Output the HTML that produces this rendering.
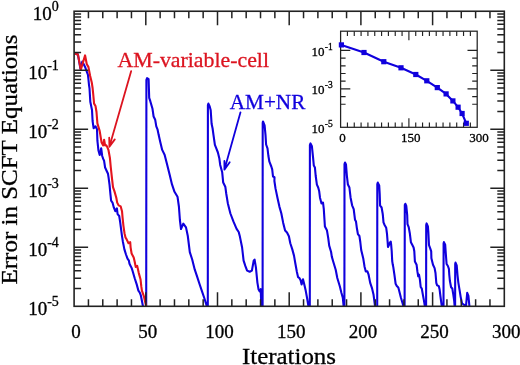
<!DOCTYPE html><html><head><meta charset="utf-8"><style>html,body{margin:0;padding:0;background:#fff;width:520px;height:365px;overflow:hidden}svg{display:block}text{font-family:"Liberation Serif","Times New Roman",serif;fill:#000;stroke:#000;stroke-width:0.3px}</style></head><body>
<svg width="520" height="365" viewBox="0 0 520 365">
<rect width="520" height="365" fill="#fff"/>
<defs><clipPath id="c"><rect x="74.1" y="11.25" width="430.20000000000005" height="295.05"/></clipPath></defs>
<g clip-path="url(#c)" fill="none" stroke-linejoin="round" stroke-linecap="round">
<polyline points="75.6,54.0 77.9,54.4 80.4,68.5 82.3,61.6 83.2,63.2 85.1,66.9 86.2,70.2 87.9,74.6 88.4,79.0 89.0,85.0 89.5,88.3 90.3,101.7 92.0,110.0 92.6,121.0 93.6,128.2 95.5,126.3 97.0,129.2 97.4,140.7 98.4,150.2 99.7,155.0 101.2,148.3 102.2,156.0 103.2,158.9 104.1,160.8 105.1,167.5 106.7,171.0 108.0,173.8 108.6,177.7 109.6,185.3 110.5,194.9 111.1,200.7 112.5,202.6 113.8,207.4 115.3,211.2 116.9,208.3 117.6,214.1 119.2,216.0 120.1,221.7 121.1,229.4 122.0,236.1 122.8,241.2 124.4,249.4 126.0,254.5 127.5,258.7 128.9,260.7 129.5,263.8 130.6,265.9 131.6,267.9 132.6,271.0 134.7,278.2 136.7,284.4 138.4,290.6 139.8,292.6 140.9,295.7 141.9,300.8 142.9,306.0 143.5,312.0 146.2,312.0 146.4,80.0 147.1,78.2 148.6,79.2 149.2,97.9 150.3,101.2 152.5,108.8 153.6,116.5 155.2,119.8 156.3,126.4 157.6,129.7 158.7,135.1 160.2,141.7 162.2,149.9 164.6,154.8 167.1,164.6 169.6,174.5 172.0,184.4 174.5,191.8 177.5,196.7 178.9,206.5 179.9,220.0 181.0,229.0 183.3,223.7 186.0,227.4 187.8,236.0 189.8,252.1 192.2,259.5 194.7,269.4 197.2,276.8 199.6,284.2 202.1,291.6 204.6,299.0 206.5,305.2 207.2,312.0 207.8,312.0 207.9,105.0 208.4,103.6 209.7,106.5 210.7,110.3 211.6,123.7 212.6,128.5 213.5,135.2 214.9,144.8 216.4,148.6 217.9,152.5 219.3,158.2 220.2,164.9 222.2,172.3 223.2,182.6 225.3,186.7 226.3,194.0 227.8,203.2 230.4,213.5 233.5,221.7 236.6,228.9 238.7,232.0 239.9,236.6 242.1,247.5 243.6,260.7 245.4,266.2 247.1,270.6 249.7,271.7 251.9,270.6 253.7,260.7 254.6,259.6 255.9,267.3 257.4,282.6 258.5,289.2 259.6,291.4 260.7,289.2 261.3,306.0 261.6,312.0 262.6,312.0 262.7,123.0 263.0,121.5 264.6,125.3 265.5,134.9 266.1,144.5 267.5,148.3 268.4,156.0 269.4,161.7 271.3,166.5 272.2,169.4 273.0,176.5 274.5,177.3 274.4,181.0 275.5,188.4 277.5,198.0 279.4,206.6 281.3,213.3 283.2,222.9 285.1,230.6 287.0,232.5 288.9,236.3 290.3,243.2 292.3,249.4 294.0,255.6 295.4,263.8 296.9,272.0 298.1,277.2 299.5,278.2 300.6,280.3 301.6,284.4 303.0,279.2 304.3,284.4 305.7,290.6 307.2,298.8 308.4,306.0 308.9,312.0 309.8,312.0 309.9,145.0 310.5,143.4 311.9,146.3 313.0,156.8 313.8,165.4 314.9,167.4 315.7,176.0 316.9,184.6 318.2,187.5 319.2,191.3 320.0,197.7 321.5,203.4 323.0,202.5 323.8,209.2 324.9,226.4 326.9,230.2 328.2,237.9 329.2,245.6 331.1,252.0 331.8,256.6 333.2,261.5 335.7,269.7 337.3,278.0 339.8,286.2 341.4,292.8 342.8,297.7 343.6,305.9 344.0,312.0 344.4,312.0 344.5,164.0 345.0,162.6 346.0,164.5 346.9,176.0 347.9,184.6 349.4,187.5 350.6,197.7 352.1,205.3 353.7,209.2 355.0,219.7 356.0,221.6 356.9,228.3 357.9,234.1 359.4,236.0 360.3,242.0 361.2,250.0 363.2,258.2 364.5,266.4 365.8,271.4 367.4,271.4 368.6,274.7 370.2,282.9 371.9,287.8 373.5,294.4 374.8,304.3 375.5,312.0 377.2,312.0 377.3,184.0 377.8,182.6 379.2,185.4 379.7,194.1 380.1,205.6 381.6,207.5 382.6,213.2 382.9,215.5 383.5,222.3 384.6,225.0 386.2,227.8 387.0,233.9 387.6,241.5 388.0,246.9 388.7,245.6 389.8,242.8 390.7,241.5 391.1,244.2 391.7,251.0 392.2,261.0 392.8,264.8 393.3,267.1 394.4,274.6 395.6,283.7 396.8,285.9 398.3,287.4 399.3,291.2 400.8,297.2 402.8,304.0 403.4,306.3 404.0,312.0 404.6,312.0 404.8,205.0 405.3,203.8 406.3,206.0 407.2,215.1 407.5,224.1 408.7,227.1 409.8,233.2 410.9,242.2 412.1,244.5 413.6,247.5 414.3,251.3 414.9,261.5 416.6,264.8 417.4,271.4 418.2,276.3 419.0,274.6 419.9,279.6 420.7,287.0 421.8,288.6 422.8,294.4 424.0,300.9 424.8,305.9 425.3,312.0 426.1,312.0 426.2,225.0 426.6,223.4 427.9,226.4 428.4,233.2 429.0,245.2 430.2,248.3 431.2,251.3 431.4,258.2 433.0,264.8 434.6,268.1 435.5,273.0 436.3,282.9 437.1,285.3 438.8,286.1 439.6,289.4 440.4,296.0 441.5,304.2 442.0,306.7 442.4,312.0 443.5,312.0 443.6,243.5 443.9,242.1 445.2,244.8 445.7,252.4 446.6,264.0 447.9,266.0 448.9,268.8 449.3,275.0 449.9,281.0 451.1,287.2 452.3,288.5 453.3,294.6 454.2,300.8 454.6,305.7 454.8,312.0 455.1,312.0 455.2,264.0 455.5,262.6 456.7,265.4 457.1,270.1 457.5,275.0 458.3,282.3 459.5,289.7 460.7,297.1 462.0,303.3 463.5,304.5 464.7,305.1 465.5,306.5 466.0,306.0 467.2,292.8 468.4,295.9 469.4,306.0 469.8,312.0" stroke="#1000dd" stroke-width="2.1"/>
<polyline points="75.6,54.0 77.9,54.4 80.8,69.6 85.1,55.4 86.8,64.2 88.4,66.9 90.1,75.7 91.7,82.2 92.6,88.0 93.2,94.0 94.1,103.6 95.5,106.0 96.5,112.0 97.4,123.4 99.7,131.1 101.6,142.6 103.2,145.4 104.1,139.7 105.1,145.4 106.4,145.4 107.4,147.4 108.5,150.2 109.9,157.9 110.8,167.5 111.9,177.7 113.0,187.2 114.4,191.1 116.3,197.8 117.2,202.6 118.6,205.4 120.7,206.4 122.0,211.2 122.6,217.9 123.4,225.6 124.5,233.2 125.5,237.5 126.5,239.1 128.5,243.2 130.2,242.2 130.6,247.3 131.6,253.5 133.7,257.6 134.7,261.7 135.7,266.9 137.2,265.9 138.8,273.1 140.5,279.2 141.3,286.4 141.9,290.6 144.0,296.7 145.4,302.9 146.8,309.0" stroke="#e4141e" stroke-width="2.1"/>
</g>
<path d="M88.44 306.3v-7M88.44 11.25v7M102.78 306.3v-7M102.78 11.25v7M117.12 306.3v-7M117.12 11.25v7M131.46 306.3v-7M131.46 11.25v7M145.80 306.3v-14M145.80 11.25v14M160.14 306.3v-7M160.14 11.25v7M174.48 306.3v-7M174.48 11.25v7M188.82 306.3v-7M188.82 11.25v7M203.16 306.3v-7M203.16 11.25v7M217.50 306.3v-14M217.50 11.25v14M231.84 306.3v-7M231.84 11.25v7M246.18 306.3v-7M246.18 11.25v7M260.52 306.3v-7M260.52 11.25v7M274.86 306.3v-7M274.86 11.25v7M289.20 306.3v-14M289.20 11.25v14M303.54 306.3v-7M303.54 11.25v7M317.88 306.3v-7M317.88 11.25v7M332.22 306.3v-7M332.22 11.25v7M346.56 306.3v-7M346.56 11.25v7M360.90 306.3v-14M360.90 11.25v14M375.24 306.3v-7M375.24 11.25v7M389.58 306.3v-7M389.58 11.25v7M403.92 306.3v-7M403.92 11.25v7M418.26 306.3v-7M418.26 11.25v7M432.60 306.3v-14M432.60 11.25v14M446.94 306.3v-7M446.94 11.25v7M461.28 306.3v-7M461.28 11.25v7M475.62 306.3v-7M475.62 11.25v7M489.96 306.3v-7M489.96 11.25v7M74.1 70.26h14M504.3 70.26h-14M74.1 52.50h7M504.3 52.50h-7M74.1 42.11h7M504.3 42.11h-7M74.1 34.73h7M504.3 34.73h-7M74.1 29.01h7M504.3 29.01h-7M74.1 24.34h7M504.3 24.34h-7M74.1 20.39h7M504.3 20.39h-7M74.1 16.97h7M504.3 16.97h-7M74.1 13.95h7M504.3 13.95h-7M74.1 129.27h14M504.3 129.27h-14M74.1 111.51h7M504.3 111.51h-7M74.1 101.12h7M504.3 101.12h-7M74.1 93.74h7M504.3 93.74h-7M74.1 88.02h7M504.3 88.02h-7M74.1 83.35h7M504.3 83.35h-7M74.1 79.40h7M504.3 79.40h-7M74.1 75.98h7M504.3 75.98h-7M74.1 72.96h7M504.3 72.96h-7M74.1 188.28h14M504.3 188.28h-14M74.1 170.52h7M504.3 170.52h-7M74.1 160.13h7M504.3 160.13h-7M74.1 152.75h7M504.3 152.75h-7M74.1 147.03h7M504.3 147.03h-7M74.1 142.36h7M504.3 142.36h-7M74.1 138.41h7M504.3 138.41h-7M74.1 134.99h7M504.3 134.99h-7M74.1 131.97h7M504.3 131.97h-7M74.1 247.29h14M504.3 247.29h-14M74.1 229.53h7M504.3 229.53h-7M74.1 219.14h7M504.3 219.14h-7M74.1 211.76h7M504.3 211.76h-7M74.1 206.04h7M504.3 206.04h-7M74.1 201.37h7M504.3 201.37h-7M74.1 197.42h7M504.3 197.42h-7M74.1 194.00h7M504.3 194.00h-7M74.1 190.98h7M504.3 190.98h-7M74.1 288.54h7M504.3 288.54h-7M74.1 278.15h7M504.3 278.15h-7M74.1 270.77h7M504.3 270.77h-7M74.1 265.05h7M504.3 265.05h-7M74.1 260.38h7M504.3 260.38h-7M74.1 256.43h7M504.3 256.43h-7M74.1 253.01h7M504.3 253.01h-7M74.1 249.99h7M504.3 249.99h-7" stroke="#222" stroke-width="1.5" fill="none"/>
<rect x="74.1" y="11.25" width="430.20" height="295.05" fill="none" stroke="#222" stroke-width="1.6"/>
<text x="76.1" y="338.2" font-size="19" text-anchor="middle">0</text>
<text x="147.8" y="338.2" font-size="19" text-anchor="middle">50</text>
<text x="219.5" y="338.2" font-size="19" text-anchor="middle">100</text>
<text x="291.2" y="338.2" font-size="19" text-anchor="middle">150</text>
<text x="362.9" y="338.2" font-size="19" text-anchor="middle">200</text>
<text x="434.6" y="338.2" font-size="19" text-anchor="middle">250</text>
<text x="506.3" y="338.2" font-size="19" text-anchor="middle">300</text>
<text x="58.8" y="19.8" font-size="19" text-anchor="end">10<tspan dy="-8.9" font-size="14">0</tspan></text>
<text x="58.8" y="78.8" font-size="19" text-anchor="end">10<tspan dy="-8.9" font-size="14">-1</tspan></text>
<text x="58.8" y="137.8" font-size="19" text-anchor="end">10<tspan dy="-8.9" font-size="14">-2</tspan></text>
<text x="58.8" y="196.8" font-size="19" text-anchor="end">10<tspan dy="-8.9" font-size="14">-3</tspan></text>
<text x="58.8" y="255.8" font-size="19" text-anchor="end">10<tspan dy="-8.9" font-size="14">-4</tspan></text>
<text x="58.8" y="314.8" font-size="19" text-anchor="end">10<tspan dy="-8.9" font-size="14">-5</tspan></text>
<text transform="translate(242,364.4) scale(1,0.95)" font-size="25" textLength="94" lengthAdjust="spacingAndGlyphs">Iterations</text>
<text transform="translate(17.3,284.5) rotate(-90) scale(1,0.93)" font-size="25">Error in SCFT Equations</text>
<text transform="translate(117.5,66.8) scale(1,0.95)" font-size="22" textLength="151.5" lengthAdjust="spacingAndGlyphs" style="fill:#dc1420;stroke:#dc1420">AM-variable-cell</text>
<path d="M131.2 71.1L109.4 146.8M109.2 137.7L109.4 146.8L114.8 139.4" stroke="#dc1420" stroke-width="1.8" fill="none" stroke-linejoin="round" stroke-linecap="round"/>
<text transform="translate(229.8,108.7) scale(1,0.97)" font-size="22" textLength="75.5" lengthAdjust="spacingAndGlyphs" style="fill:#1000dd;stroke:#1000dd">AM+NR</text>
<path d="M240.5 112.3L224.4 169.7M224.4 161L224.4 169.7L229.7 162.3" stroke="#1000dd" stroke-width="1.8" fill="none" stroke-linejoin="round" stroke-linecap="round"/>
<rect x="340.6" y="31.2" width="136.60" height="96.10" fill="#fff" stroke="none"/>
<path d="M347.43 127.3v-4.7M347.43 31.2v4.7M354.26 127.3v-4.7M354.26 31.2v4.7M361.09 127.3v-4.7M361.09 31.2v4.7M367.92 127.3v-4.7M367.92 31.2v4.7M374.75 127.3v-4.7M374.75 31.2v4.7M381.58 127.3v-4.7M381.58 31.2v4.7M388.41 127.3v-4.7M388.41 31.2v4.7M395.24 127.3v-4.7M395.24 31.2v4.7M402.07 127.3v-4.7M402.07 31.2v4.7M408.90 127.3v-9M408.90 31.2v9M415.73 127.3v-4.7M415.73 31.2v4.7M422.56 127.3v-4.7M422.56 31.2v4.7M429.39 127.3v-4.7M429.39 31.2v4.7M436.22 127.3v-4.7M436.22 31.2v4.7M443.05 127.3v-4.7M443.05 31.2v4.7M449.88 127.3v-4.7M449.88 31.2v4.7M456.71 127.3v-4.7M456.71 31.2v4.7M463.54 127.3v-4.7M463.54 31.2v4.7M470.37 127.3v-4.7M470.37 31.2v4.7M340.6 50.42h9.7M477.2 50.42h-9.7M340.6 88.86h9.7M477.2 88.86h-9.7M340.6 58.11h5M477.2 58.11h-5M340.6 65.80h5M477.2 65.80h-5M340.6 73.48h5M477.2 73.48h-5M340.6 81.17h5M477.2 81.17h-5M340.6 96.55h5M477.2 96.55h-5M340.6 104.24h5M477.2 104.24h-5" stroke="#222" stroke-width="1.15" fill="none"/>
<rect x="340.6" y="31.2" width="136.60" height="96.10" fill="none" stroke="#222" stroke-width="1.25"/>
<polyline points="341.4,44.9 364.0,52.5 383.8,61.7 401.0,67.8 415.8,74.5 426.8,80.8 437.3,87.6 446.1,93.9 452.9,100.9 458.1,107.2 462.1,113.5 466.3,123.3" stroke="#1000dd" stroke-width="2.1" fill="none" stroke-linejoin="round"/>
<rect x="338.8" y="42.3" width="5.2" height="5.2" fill="#1000dd"/>
<rect x="361.4" y="49.9" width="5.2" height="5.2" fill="#1000dd"/>
<rect x="381.2" y="59.1" width="5.2" height="5.2" fill="#1000dd"/>
<rect x="398.4" y="65.2" width="5.2" height="5.2" fill="#1000dd"/>
<rect x="413.2" y="71.9" width="5.2" height="5.2" fill="#1000dd"/>
<rect x="424.2" y="78.2" width="5.2" height="5.2" fill="#1000dd"/>
<rect x="434.7" y="85.0" width="5.2" height="5.2" fill="#1000dd"/>
<rect x="443.5" y="91.3" width="5.2" height="5.2" fill="#1000dd"/>
<rect x="450.3" y="98.3" width="5.2" height="5.2" fill="#1000dd"/>
<rect x="455.5" y="104.6" width="5.2" height="5.2" fill="#1000dd"/>
<rect x="459.5" y="110.9" width="5.2" height="5.2" fill="#1000dd"/>
<rect x="463.7" y="120.7" width="5.2" height="5.2" fill="#1000dd"/>
<text x="342.4" y="141.9" font-size="13" text-anchor="middle">0</text>
<text x="410.7" y="141.9" font-size="13" text-anchor="middle">150</text>
<text x="479.0" y="141.9" font-size="13" text-anchor="middle">300</text>
<text x="311.6" y="55.9" font-size="13">10<tspan dx="0.2" dy="-6.0" font-size="9.5">-1</tspan></text>
<text x="311.6" y="94.4" font-size="13">10<tspan dx="0.2" dy="-6.0" font-size="9.5">-3</tspan></text>
<text x="311.6" y="132.8" font-size="13">10<tspan dx="0.2" dy="-6.0" font-size="9.5">-5</tspan></text>
</svg></body></html>
